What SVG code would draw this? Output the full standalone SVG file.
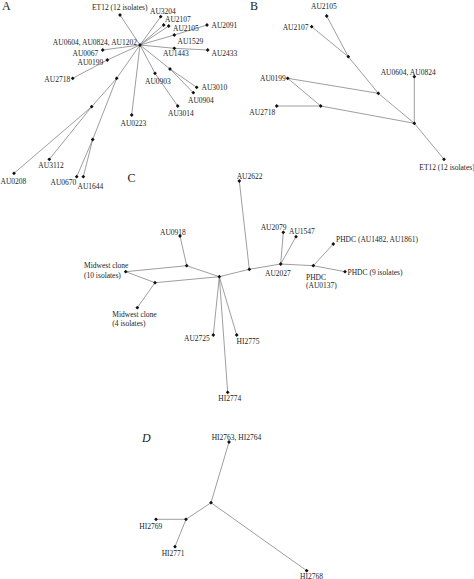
<svg xmlns="http://www.w3.org/2000/svg" width="474" height="579" viewBox="0 0 474 579">
<style>
.e{stroke:#858585;stroke-width:0.8;fill:none}
.n{fill:#111}
text{font-family:"Liberation Serif","Times New Roman",serif;font-size:7.5px;fill:#1c1c1c}
.p{font-size:12px}
</style>
<defs><path id="d" d="M0,-1.9 L1.9,0 L0,1.9 L-1.9,0 Z"/></defs>
<rect width="474" height="579" fill="#fff"/>
<text class="p" x="2" y="10">A</text>
<text class="p" x="250" y="9.5">B</text>
<text class="p" x="127.5" y="181.7">C</text>
<text class="p" x="142" y="442" font-style="italic">D</text>
<g id="connectors">
<path class="e" d="M140,45L120,15M140,45L160.7,16.7M140,45L163.7,25M140,45L168.7,26M140,45L174.3,35L207,25M140,45L174.3,48.3L207.7,50M140,45L170,69L196.7,87.3M170,69L193.3,92.7M140,45L155,73.3L177.7,106M140,45L131.7,115M140,45L102.7,50M140,45L107.3,60L72.7,78.3M140,45L116.7,78.3L91.7,106.7L49.3,159.3M91.7,106.7L14,173.3M116.7,78.3L92.7,139.5L76.7,176.7M92.7,139.5L83.3,176.7"/>
<path class="e" d="M326.7,16L348.3,56.7M311.7,26.7L348.3,56.7L378.3,93.3L414.3,123.3L444,159.3M287.7,78.3L378.3,93.3M287.7,78.3L320.7,106L414.3,123.3M276.7,106L320.7,106M414.3,76.7L414.3,123.3"/>
<path class="e" d="M239.3,181L249.3,269.3M219.3,276.7L249.3,269.3L280.7,264L313.3,265.7L345,271.7M313.3,265.7L333.3,244M280.7,264L283.3,232.3M280.7,264L296,236.7M219.3,276.7L186.7,265.7L180,236M186.7,265.7L125.7,271.7L155,282.7L219.3,276.7M155,282.7L137.3,307.7M219.3,276.7L213.3,335M219.3,276.7L236.7,335M219.3,276.7L227.7,392.3"/>
<path class="e" d="M229,442L211,502.7L186,519.3L156,519.3M186,519.3L175,546.7M211,502.7L306.7,570.7"/>
</g>
<g id="a_hub"><use href="#d" class="n" x="140" y="45"/><text x="137" y="44.5" text-anchor="end">AU0604, AU0824, AU1202</text></g>
<g id="a_et12"><use href="#d" class="n" x="120" y="15"/><text x="92" y="10">ET12 (12 isolates)</text></g>
<g id="a_au3204"><use href="#d" class="n" x="160.7" y="16.7"/><text x="150" y="14">AU3204</text></g>
<g id="a_au2107"><use href="#d" class="n" x="163.7" y="25"/><text x="165" y="22">AU2107</text></g>
<g id="a_au2105"><use href="#d" class="n" x="168.7" y="26"/><text x="173" y="31">AU2105</text></g>
<g id="a_au2091"><use href="#d" class="n" x="207" y="25"/><text x="211.5" y="28">AU2091</text></g>
<g id="a_au1529"><use href="#d" class="n" x="174.3" y="35"/><text x="177.5" y="44">AU1529</text></g>
<g id="a_au1443"><use href="#d" class="n" x="174.3" y="48.3"/><text x="163" y="56">AU1443</text></g>
<g id="a_au2433"><use href="#d" class="n" x="207.7" y="50"/><text x="211.5" y="56">AU2433</text></g>
<g id="a_n1"><use href="#d" class="n" x="170" y="69"/></g>
<g id="a_au3010"><use href="#d" class="n" x="196.7" y="87.3"/><text x="201.5" y="90">AU3010</text></g>
<g id="a_au0904"><use href="#d" class="n" x="193.3" y="92.7"/><text x="188" y="103">AU0904</text></g>
<g id="a_au0903"><use href="#d" class="n" x="155" y="73.3"/><text x="145" y="83.5">AU0903</text></g>
<g id="a_au3014"><use href="#d" class="n" x="177.7" y="106"/><text x="168" y="115.5">AU3014</text></g>
<g id="a_au0223"><use href="#d" class="n" x="131.7" y="115"/><text x="120.5" y="126">AU0223</text></g>
<g id="a_au0067"><use href="#d" class="n" x="102.7" y="50"/><text x="72.5" y="56">AU0067</text></g>
<g id="a_au0199"><use href="#d" class="n" x="107.3" y="60"/><text x="77.5" y="64.5">AU0199</text></g>
<g id="a_au2718"><use href="#d" class="n" x="72.7" y="78.3"/><text x="44.3" y="82">AU2718</text></g>
<g id="a_n2"><use href="#d" class="n" x="116.7" y="78.3"/></g>
<g id="a_n3"><use href="#d" class="n" x="91.7" y="106.7"/></g>
<g id="a_n4"><use href="#d" class="n" x="92.7" y="139.5"/></g>
<g id="a_au3112"><use href="#d" class="n" x="49.3" y="159.3"/><text x="38.3" y="168">AU3112</text></g>
<g id="a_au0208"><use href="#d" class="n" x="14" y="173.3"/><text x="0.5" y="184">AU0208</text></g>
<g id="a_au0670"><use href="#d" class="n" x="76.7" y="176.7"/><text x="50.5" y="185">AU0670</text></g>
<g id="a_au1644"><use href="#d" class="n" x="83.3" y="176.7"/><text x="77.5" y="189">AU1644</text></g>
<g id="b_au2105"><use href="#d" class="n" x="326.7" y="16"/><text x="311" y="9">AU2105</text></g>
<g id="b_au2107"><use href="#d" class="n" x="311.7" y="26.7"/><text x="282.7" y="30">AU2107</text></g>
<g id="b_n1"><use href="#d" class="n" x="348.3" y="56.7"/></g>
<g id="b_au0199"><use href="#d" class="n" x="287.7" y="78.3"/><text x="260" y="80.5">AU0199</text></g>
<g id="b_n2"><use href="#d" class="n" x="378.3" y="93.3"/></g>
<g id="b_au0604"><use href="#d" class="n" x="414.3" y="76.7"/><text x="380.7" y="74.5">AU0604, AU0824</text></g>
<g id="b_au2718"><use href="#d" class="n" x="276.7" y="106"/><text x="249.3" y="114.5">AU2718</text></g>
<g id="b_n3"><use href="#d" class="n" x="320.7" y="106"/></g>
<g id="b_hub"><use href="#d" class="n" x="414.3" y="123.3"/></g>
<g id="b_et12"><use href="#d" class="n" x="444" y="159.3"/><text x="419.3" y="169.5">ET12 (12 isolates)</text></g>
<g id="c_hub"><use href="#d" class="n" x="219.3" y="276.7"/></g>
<g id="c_n1"><use href="#d" class="n" x="186.7" y="265.7"/></g>
<g id="c_mw10"><use href="#d" class="n" x="125.7" y="271.7"/><text x="84" y="268">Midwest clone</text><text x="84" y="277.5">(10 isolates)</text></g>
<g id="c_n2"><use href="#d" class="n" x="155" y="282.7"/></g>
<g id="c_mw4"><use href="#d" class="n" x="137.3" y="307.7"/><text x="112.3" y="317">Midwest clone</text><text x="112.3" y="326">(4 isolates)</text></g>
<g id="c_au2725"><use href="#d" class="n" x="213.3" y="335"/><text x="184" y="340.5">AU2725</text></g>
<g id="c_hi2775"><use href="#d" class="n" x="236.7" y="335"/><text x="236.5" y="344">HI2775</text></g>
<g id="c_hi2774"><use href="#d" class="n" x="227.7" y="392.3"/><text x="218.3" y="401">HI2774</text></g>
<g id="c_n3"><use href="#d" class="n" x="249.3" y="269.3"/></g>
<g id="c_au0918"><use href="#d" class="n" x="180" y="236"/><text x="160" y="234.5">AU0918</text></g>
<g id="c_au2622"><use href="#d" class="n" x="239.3" y="181"/><text x="236.7" y="179">AU2622</text></g>
<g id="c_au2027"><use href="#d" class="n" x="280.7" y="264"/><text x="265" y="275.5">AU2027</text></g>
<g id="c_au2079"><use href="#d" class="n" x="283.3" y="232.3"/><text x="260.7" y="229.5">AU2079</text></g>
<g id="c_au1547"><use href="#d" class="n" x="296" y="236.7"/><text x="289" y="234">AU1547</text></g>
<g id="c_phdc137"><use href="#d" class="n" x="313.3" y="265.7"/><text x="306" y="279.5">PHDC</text><text x="306" y="288">(AU0137)</text></g>
<g id="c_phdc9"><use href="#d" class="n" x="345" y="271.7"/><text x="347.5" y="275">PHDC (9 isolates)</text></g>
<g id="c_phdc1482"><use href="#d" class="n" x="333.3" y="244"/><text x="336" y="242">PHDC (AU1482, AU1861)</text></g>
<g id="d_hi2763"><use href="#d" class="n" x="229" y="442"/><text x="211.7" y="440">HI2763, HI2764</text></g>
<g id="d_hub"><use href="#d" class="n" x="211" y="502.7"/></g>
<g id="d_n1"><use href="#d" class="n" x="186" y="519.3"/></g>
<g id="d_hi2769"><use href="#d" class="n" x="156" y="519.3"/><text x="139.3" y="529">HI2769</text></g>
<g id="d_hi2771"><use href="#d" class="n" x="175" y="546.7"/><text x="161.7" y="556">HI2771</text></g>
<g id="d_hi2768"><use href="#d" class="n" x="306.7" y="570.7"/><text x="300" y="578.5">HI2768</text></g>
</svg>
